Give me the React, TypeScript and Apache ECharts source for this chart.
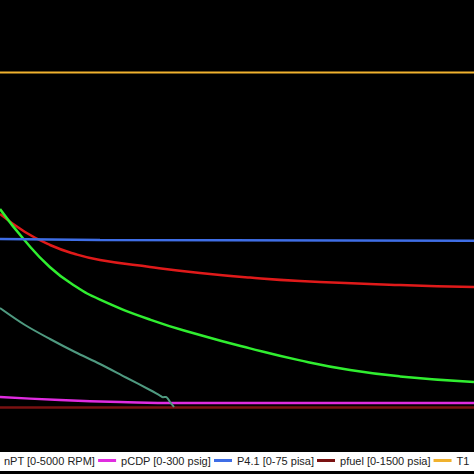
import React, { useEffect, useRef } from "react";
import * as echarts from "echarts";

// time axis (arbitrary units), values in % of full scale
const redT = [0, 12.5, 25, 37.5, 50, 75, 100, 125, 150, 200, 237];
const redV = [49, 44.5, 41.25, 39, 37.5, 35.75, 34.25, 33.1, 32.25, 31.25, 30.75];

const greenT = [0, 12.5, 25, 37.5, 50, 75, 100, 125, 150, 175, 200, 237];
const greenV = [50.25, 42.3, 35.7, 31, 27.6, 22.6, 18.75, 15.4, 12.4, 10, 8.4, 7];

const nptT = [0, 12.5, 25, 37.5, 50, 62.5, 75, 80, 81.5, 83, 85, 87];
const nptV = [25.5, 21.25, 17.75, 14.5, 11.5, 8.25, 5, 3.6, 3.2, 3.25, 2, 0.75];

const pcdpT = [0, 30, 60, 90, 237];
const pcdpV = [3.25, 2.5, 2, 1.75, 1.75];

const p41T = [0, 50, 237];
const p41V = [42.75, 42.5, 42.3];

const pfuelT = [0, 237];
const pfuelV = [0.6, 0.6];

const t1T = [0, 237];
const t1V = [84.4, 84.4];

const legendNames = ["nPT [0-5000 RPM]", "pCDP [0-300 psig]", "P4.1 [0-75 pisa]", "pfuel [0-1500 psia]", "T1"];

const zip = (t: number[], v: number[]) => t.map((x, i) => [x, v[i]]);

export default function App() {
  const ref = useRef<HTMLDivElement>(null);
  useEffect(() => {
    if (!ref.current) return;
    const chart = echarts.init(ref.current, null, { renderer: "svg" });
    const mk = (name: string, t: number[], v: number[], color: string, width: number, smooth: any) => ({
      type: "line",
      name,
      data: zip(t, v),
      symbol: "none",
      smooth,
      lineStyle: { color, width },
      itemStyle: { color },
      emphasis: { disabled: true },
    });
    chart.setOption({
      animation: false,
      backgroundColor: "#000000",
      grid: { left: 0, right: 0, top: 10, bottom: 64 },
      xAxis: { type: "value", min: 0, max: 237, show: false, splitLine: { show: false } },
      yAxis: { type: "value", min: 0, max: 100, show: false, splitLine: { show: false } },
      graphic: [
        {
          type: "rect",
          z: 0,
          shape: { x: 0, y: 452, width: 474, height: 19 },
          style: { fill: "#ffffff" },
        },
      ],
      legend: {
        data: legendNames,
        left: -19,
        top: 455,
        width: 800,
        padding: 0,
        icon: "rect",
        itemWidth: 18,
        itemHeight: 3,
        itemGap: 3,
        textStyle: { fontFamily: "Liberation Sans, Arial, sans-serif", fontSize: 11, color: "#222222" },
        z: 10,
      },
      series: [
        mk("pfuel [0-1500 psia]", pfuelT, pfuelV, "#7a1212", 2.5, false),
        mk("pCDP [0-300 psig]", pcdpT, pcdpV, "#e02ce0", 2.5, 0.5),
        mk("nPT [0-5000 RPM]", nptT, nptV, "#4f9a80", 2, 0.3),
        mk("T4.5", redT, redV, "#e01a1a", 2.5, 0.5),
        mk("nGG", greenT, greenV, "#30ee30", 2.5, 0.5),
        mk("P4.1 [0-75 pisa]", p41T, p41V, "#3f6ee6", 2.5, false),
        mk("T1", t1T, t1V, "#f0b22e", 2, false),
      ],
    });
    return () => chart.dispose();
  }, []);
  return (
    <div
      ref={ref}
      style={{ position: "absolute", left: 0, top: 0, width: 474, height: 474 }}
    />
  );
}
